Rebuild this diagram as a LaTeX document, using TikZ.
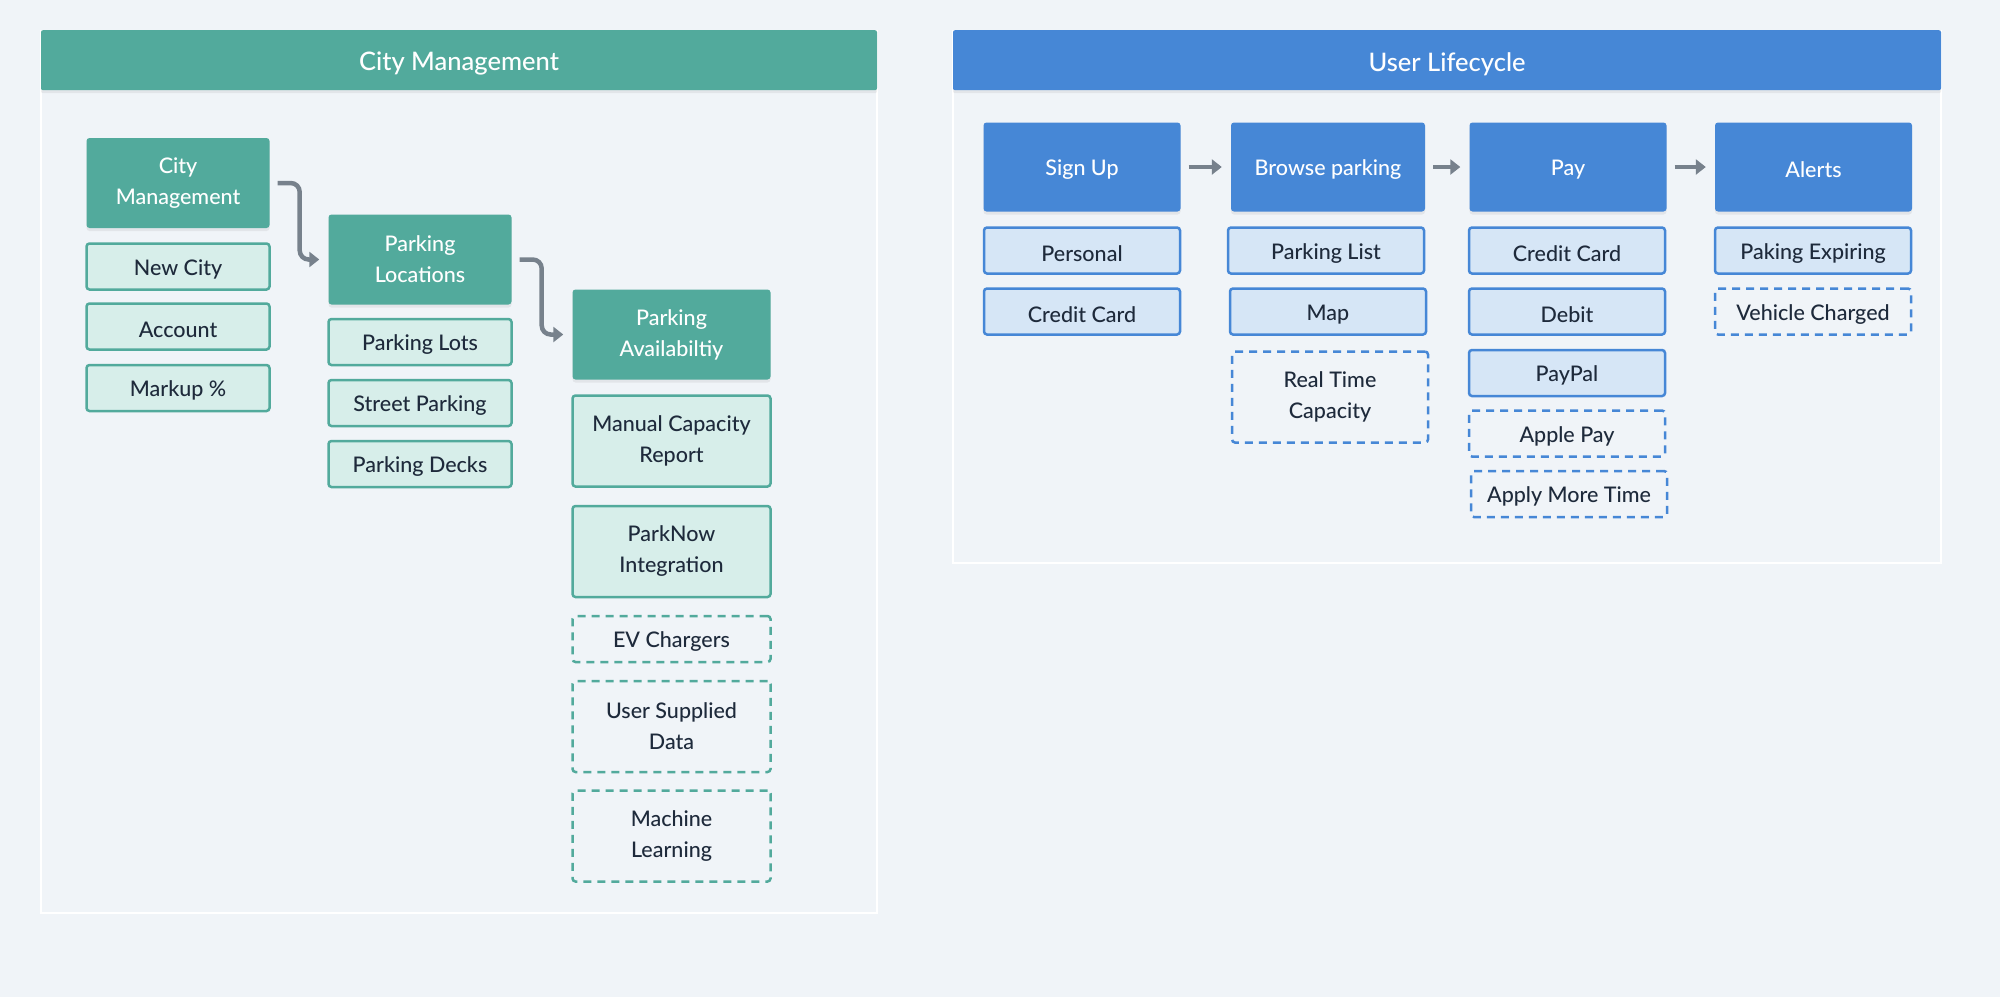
\documentclass[tikz,border=0pt]{standalone}
\usepackage{fontspec}
\setmainfont{Lato Medium}
\usepackage{xcolor}
\usepackage{tikz}
\usetikzlibrary{arrows.meta, positioning, shadows}

\definecolor{pagebg}{HTML}{F0F4F8}
\definecolor{teal}{HTML}{52AA9C}
\definecolor{teallight}{HTML}{D7EEEA}
\definecolor{blue}{HTML}{4687D6}
\definecolor{bluelight}{HTML}{D6E6F6}
\definecolor{arrowgray}{HTML}{77818C}
\definecolor{ink}{HTML}{1E2A3B}

\begin{document}
\begin{tikzpicture}[
    x=1pt, y=-1pt,
    box/.style={rectangle, rounded corners=3pt, align=center, inner sep=2pt,
                minimum height=46pt, font=\fontsize{21.5}{31}\selectfont, text=ink,
                execute at begin node={\rule{0pt}{21.5pt}}},
    title/.style={rectangle, rounded corners=2pt, minimum height=60pt,
                  text=white, font=\fontsize{25.5}{30}\selectfont,
                  execute at begin node={\rule{0pt}{26pt}},
                  drop shadow={opacity=0.12, shadow xshift=0pt, shadow yshift=-3pt}},
    panel/.style={rectangle, draw=white, line width=2pt, fill=pagebg},
    % city management side
    cmmain/.style={box, fill=teal, text=white, minimum height=90pt,
                   drop shadow={opacity=0.12, shadow xshift=0pt, shadow yshift=-3pt}},
    cmsub/.style={box, fill=teallight, draw=teal, line width=2.5pt},
    cmidea/.style={box, draw=teal, line width=2.5pt, dash pattern=on 8pt off 6pt},
    % user lifecycle side
    ulmain/.style={box, fill=blue, text=white, minimum width=197pt, minimum height=89pt,
                   drop shadow={opacity=0.12, shadow xshift=0pt, shadow yshift=-3pt}},
    ulsub/.style={box, fill=bluelight, draw=blue, line width=2.5pt, minimum width=196pt},
    ulidea/.style={box, draw=blue, line width=2.5pt, dash pattern=on 8pt off 6pt,
                   minimum width=196pt},
    flow/.style={-{Triangle[length=10pt, width=15pt]}, line width=4.5pt, arrowgray},
    bentflow/.style={flow, rounded corners=9pt},
]

\fill[pagebg] (0,0) rectangle (2000,997);
\useasboundingbox (0,0) rectangle (2000,997);

% ── Panels ─────────────────────────────────────────────────────────
\node[panel, minimum width=836pt, minimum height=882pt] (cmpanel) at (459,472) {};
\node[panel, minimum width=988pt, minimum height=532pt] (ulpanel) at (1447,297) {};
\node[title, fill=teal, minimum width=836pt, anchor=north] (cmtitle) at (cmpanel.north) {City Management};
\node[title, fill=blue, minimum width=988pt, anchor=north] (ultitle) at (ulpanel.north) {User Lifecycle};

% ── Column 1  x=178 : city ────────────────────────────────────────
\node[cmmain, minimum width=183pt] (cm)      at (178,183)   {City\\Management};
\node[cmsub,  minimum width=183pt] (newcity) at (178,266.5) {New City};
\node[cmsub,  minimum width=183pt] (account) at (178,326.5) {Account};
\node[cmsub,  minimum width=183pt] (markup)  at (178,388)   {Markup \%};

% ── Column 2  x=420 : locations ───────────────────────────────────
\node[cmmain, minimum width=183pt] (ploc)    at (420,259.5) {Parking\\Locations};
\node[cmsub,  minimum width=183pt] (lots)    at (420,342)   {Parking Lots};
\node[cmsub,  minimum width=183pt] (street)  at (420,403)   {Street Parking};
\node[cmsub,  minimum width=183pt] (decks)   at (420,464)   {Parking Decks};

% ── Column 3  x=671.5 : availability ──────────────────────────────
\node[cmmain, minimum width=198pt] (pavail)  at (671.5,334.5) {Parking\\Availabiltiy};
\node[cmsub,  minimum width=198pt, minimum height=91pt] (manual)  at (671.5,441)   {Manual Capacity\\Report};
\node[cmsub,  minimum width=198pt, minimum height=91pt] (parknow) at (671.5,551.5) {ParkNow\\Integration};
\node[cmidea, minimum width=198pt] (ev)      at (671.5,639)   {EV Chargers};
\node[cmidea, minimum width=198pt, minimum height=91pt] (usd) at (671.5,726.5) {User Supplied\\Data};
\node[cmidea, minimum width=198pt, minimum height=91pt] (ml)  at (671.5,836)   {Machine\\Learning};

% ── User lifecycle  y=167 : stages ────────────────────────────────
\node[ulmain] (signup) at (1082,167)   {Sign Up};
\node[ulmain, minimum width=194pt] (browse) at (1328,167) {Browse parking};
\node[ulmain] (pay)    at (1568,167)   {Pay};
\node[ulmain] (alerts) at (1813.5,167) {Alerts};

% sign up
\node[ulsub] (personal) at (1082,250.5) {Personal};
\node[ulsub] (sucard)   at (1082,311.5) {Credit Card};
% browse
\node[ulsub] (plist)    at (1326,250.5) {Parking List};
\node[ulsub] (map)      at (1328,311.5) {Map};
\node[ulidea, minimum height=91pt] (rtcap) at (1330,397) {Real Time\\Capacity};
% pay
\node[ulsub]  (paycard)  at (1567,250.5) {Credit Card};
\node[ulsub]  (debit)    at (1567,311.5) {Debit};
\node[ulsub]  (paypal)   at (1567,373)   {PayPal};
\node[ulidea] (applepay) at (1567,433.5) {Apple Pay};
\node[ulidea] (moretime) at (1569,494)   {Apply More Time};
% alerts
\node[ulsub]  (expiring) at (1813,250.5) {Paking Expiring};
\node[ulidea] (charged)  at (1813,311.5) {Vehicle Charged};

% ── Arrows ─────────────────────────────────────────────────────────

% City -> Locations -> Availability: step right, drop, step in
\draw[bentflow] ([xshift=8pt]cm.east)   -- ++(22,0) |- ([xshift=-9pt]ploc.west);
\draw[bentflow] ([xshift=8pt]ploc.east) -- ++(22,0) |- ([xshift=-9pt]pavail.west);

% lifecycle chain (horizontal)
\draw[flow, shorten <=8pt, shorten >=9pt] (signup) -- (browse);
\draw[flow, shorten <=8pt, shorten >=9pt] (browse) -- (pay);
\draw[flow, shorten <=8pt, shorten >=9pt] (pay)    -- (alerts);

\end{tikzpicture}
\end{document}
